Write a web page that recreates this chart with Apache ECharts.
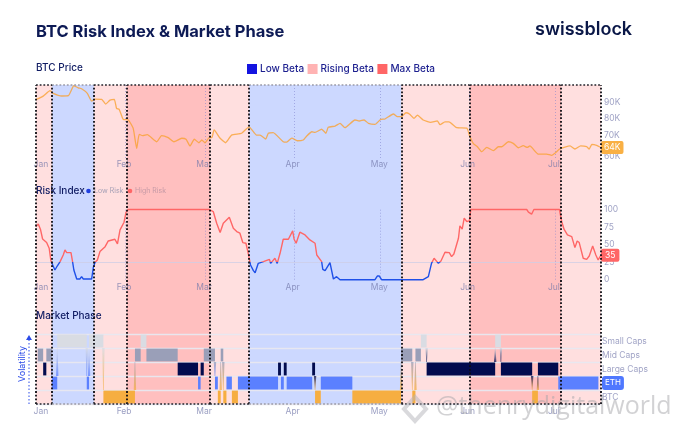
<!DOCTYPE html>
<html><head><meta charset="utf-8">
<style>html,body{margin:0;padding:0;background:#fff}#c{width:680px;height:434px}</style>
<script src="https://cdn.jsdelivr.net/npm/echarts@6/dist/echarts.min.js"></script>
</head><body><div id="c"></div>
<script>
// x values are days counted from the start of the year (Jan 1 = 0)
const priceDays = [1,3.5,5.9,7,10,12.3,14.2,15.7,16.9,18.9,20.4,21.6,23.9,25.3,26.8,28.3,29.1,30,31.4,33.2,34.9,36.1,37,38.2,39.8,43.1,44.8,47.1,49.1,51.8,53.3,54.7,56.2,57.8,58.8,59.9,61.4,62.3,63.1,65.2,67.1,69.2,72.7,75.3,77.9,79.1,81.1,82,83.7,87.2,88.4,90.2,92.1,94.2,95.4,97.2,98.3,100.6,102.1,102.9,105.3,107,108.7,112.2,113.7,115.4,116.9,119.2,121.2,122.7,125.6,127,128.3,130,131.2,132.8,134,136,138.6,140.9,141.9,143.6,145,147.7,151.2,152.3,153.5,154.9,156.4,158.2,160.5,162.2,163.4,165.7,167.4,169.2,170.9,172.3,173.2,176.1,179,180.8,183.7,187.2,188.9,190.9,193,193.9,194.8,196.5,198];
const priceK = [92.3,94.8,98.9,96.8,94.9,95.1,102.6,101,100.3,96.8,91.3,92.7,92.5,89.2,91.9,92.5,86.3,85.7,79.4,79,74.1,63.6,70.8,70.1,70.6,66.9,70.1,69,66.9,68.7,68.2,64.8,68.2,66.4,67.8,66.4,69,69,73.2,68.7,66.4,70.4,71.4,75,70.4,70.4,68.3,71.4,71.7,66.9,66.7,68.8,67.4,67.8,69.9,72.2,71.9,73.6,71.4,74.7,75.4,77,74.5,79,78.4,79,77,76.4,79.4,79.6,82.7,81,81,83.5,82.7,80,82,79,77.6,78.5,76.2,77.9,77.9,74.5,74.3,69.5,66,64.4,62,64.1,62.5,64.4,64.4,66.9,66.1,63.9,64.9,64.1,64.8,60.9,60.9,60.3,63.4,64.8,63.3,64.8,64.4,63.3,65.6,65.1,64];
const riskDays = [1,1.8,2.6,3.3,4.7,5.6,6.2,6.8,7.6,8.4,9.4,10.5,11.1,11.7,13.2,13.8,14.2,15.2,16.3,16.9,17.5,20.4,21,21.6,22.4,23.3,25.1,26.2,28.5,29.4,30.3,31.7,32.4,33.2,61.4,62.8,64,65.2,65.7,66.3,68.4,69.8,71,72.1,73.1,74.2,75,75.8,76.8,77.4,78.5,80.3,82.4,82.8,84.3,85.1,86.1,87.2,89,90.5,91,91.7,93,94.8,96.5,98.3,98.9,100.6,101,101.8,103.5,104.7,105.8,107,119.2,120,120.7,121.5,136,137.8,138.9,139.8,141.3,142.2,143.6,145.1,145.9,146.7,148.3,148.8,149.6,150.3,151.2,152.1,152.6,172.1,172.7,173.8,174.6,183.5,184.3,185.1,186.3,187.8,188.9,189.7,190.4,191.8,193,193.9,195.1,196.2,197,198];
const riskValues = [75.7,79.5,71,58,52.9,44.8,26.7,24.3,13.8,19.5,25.7,35.2,42.4,38.6,38.6,24.3,13.8,1,1,4.3,1,1,17.6,24.8,28.1,40,47.1,55.2,57.6,51,71,81.9,96.2,100,100,97.1,80.5,67.1,68.6,80.5,89,73.3,68.6,66.2,52.9,51.9,37.6,21,12.9,10,23.3,25.7,29,23.3,30.5,23.3,37.6,57.6,57.6,69.5,57.6,51.9,67.6,63.8,56.7,51.9,35.2,25.7,14.8,12.9,24.3,1,4.3,0,0,5.2,5.2,0,0,4.3,23.3,30.5,23.3,26.7,39,38.6,32.9,36.7,59,76.7,71.9,87.6,82.9,83.8,100,100,96.2,93.3,100,100,82.9,71.9,63.8,61.4,45.7,55.2,52.9,30.5,29,33.8,48.1,35.2,28.1,35];
const betaEdges = [1,6.6,21.2,32.7,61.7,75.3,128.4,152.3,184.1,198];
const betaTypes = ['Rising Beta','Low Beta','Rising Beta','Max Beta','Rising Beta','Low Beta','Rising Beta','Max Beta','Rising Beta'];
const volCaps = ['BTC','ETH','Large Caps','Mid Caps','Small Caps'];
const phaseStart = [1.6,3.5,4.6,6.5,8.4,18.7,19.5,24.5,35.5,37.5,39.5,50.4,57.5,58.4,59.5,63.4,64.4,65.4,66.3,67.4,69.3,71.4,85.4,86.4,87.4,88.4,97.3,98.3,100.3,111.3,128.3,132.2,133.3,135.2,137.2,161.1,163.1,174,176,183.1];
const phaseEnd   = [3.5,4.6,6.5,8.4,18.7,19.5,24.5,35.5,37.5,39.5,50.4,57.5,58.4,59.5,63.4,64.4,65.4,66.3,67.4,69.3,71.4,85.4,86.4,87.4,88.4,97.3,98.3,100.3,111.3,128.3,132.2,133.3,135.2,137.2,161.1,163.1,174,176,183.1,197.1];
const phaseLevel = [3,2,3,1,4,1,4,0,3,4,3,2,1,2,3,1,0,3,0,1,0,1,2,1,2,1,2,0,1,0,3,0,3,4,2,4,2,0,2,1];
const monthTickDays = [2.7,31.7,59.6,90.5,120.7,151.5,181.6];
const monthNames = ['Jan','Feb','Mar','Apr','May','Jun','Jul'];
const monthLineDays = [32,60,91,121,152,182];
const priceTicks = [60000,70000,80000,90000];
const riskTicks = [0,25,50,75,100];
const riskSplit = 25;

const FONT = 'Inter, "Noto Sans", sans-serif';
const NAVY = '#101c63';
const LABEL = '#a1a4c6';
const levelColor = ['#f6ae41','#5b80ff','#020b4e','#9a9fb8','#d9dce3'];
const zoneColor = {'Low Beta':'#ccd8ff','Rising Beta':'#ffdfdf','Max Beta':'#ffbfbf'};
const legendColor = {'Low Beta':'#1414e0','Rising Beta':'#ffb3b3','Max Beta':'#ff6666'};
const grids = [
  {left:36,right:79,top:85,height:319},
  {left:36,right:79,top:85,height:73},
  {left:36,right:79,top:209.5,height:70.2},
  {left:36,right:79,top:334,height:70}
];
const hiddenX = {type:'value',gridIndex:0,min:1,max:198,show:false};
function monthAxis(g,margin){return {type:'value',gridIndex:g,min:1,max:198,z:3,
  axisLine:{show:false},axisTick:{show:false},splitLine:{show:false},
  axisLabel:{customValues:monthTickDays,margin,fontSize:8.5,fontFamily:FONT,color:'rgba(115,120,170,.72)',
    formatter:v=>monthNames[monthTickDays.indexOf(v)]||''}};}

const zoneNames = ['Low Beta','Rising Beta','Max Beta'];
const zoneSeries = zoneNames.map(n=>({
  name:n,type:'line',xAxisIndex:0,yAxisIndex:0,data:[],z:1,silent:true,
  itemStyle:{color:legendColor[n]},lineStyle:{color:legendColor[n]},
  markArea:{silent:true,z:1,itemStyle:{color:zoneColor[n],opacity:1},
    data:betaTypes.map((t,i)=>t===n?[{xAxis:betaEdges[i]},{xAxis:betaEdges[i+1]}]:null).filter(Boolean)}
}));
const edgeLines = betaEdges.map(d=>({xAxis:d,lineStyle:{color:'#0d0d12',type:[1.8,1.9],width:1.8}}));
const rimLines = [];
betaTypes.forEach((t,i)=>{ [0,1].forEach(y=>{
  rimLines.push([{coord:[betaEdges[i],y],lineStyle:{color:t==='Low Beta'?'#9a9aa8':'#22222a',type:[1.8,1.9],width:1.5}},{coord:[betaEdges[i+1],y]}]);
});});
const guide = {symbol:'none',silent:true,animation:false,label:{show:false},
  lineStyle:{color:'rgba(125,130,205,.55)',type:[1,2],width:1},data:monthLineDays.map(d=>({xAxis:d}))};

function renderPhase(params,api){
  const i = params.dataIndex;
  const h = api.size([0,1])[1];
  const a = api.coord([api.value(0),api.value(2)]);
  const b = api.coord([api.value(1),api.value(2)]);
  const kids = [{type:'rect',shape:{x:a[0],y:a[1]-h/2+0.6,width:b[0]-a[0],height:h-1.2},
    style:{fill:levelColor[api.value(2)]}}];
  if(i>0){
    const prev = phaseLevel[i-1], cur = phaseLevel[i];
    if(Math.abs(prev-cur)>1){
      const p = api.coord([api.value(0),prev]);
      const up = cur<prev;
      const y1 = p[1]+(up?h/2:-h/2), y2 = a[1]+(up?-h/2:h/2);
      kids.push({type:'polygon',shape:{points:[[a[0]-1.2,y1],[a[0]+1.2,y1],[a[0]+0.3,y2],[a[0]-0.3,y2]]},
        style:{fill:new echarts.graphic.LinearGradient(0,y1<y2?0:1,0,y1<y2?1:0,[
          {offset:0,color:levelColor[prev]},{offset:1,color:levelColor[cur]}]),opacity:.75}});
    }
  }
  return {type:'group',children:kids};
}
const txt = (text,left,top,size,color,weight)=>({text,left,top,padding:0,textStyle:{fontFamily:FONT,fontSize:size,color,fontWeight:weight||500}});

// risk line colour changes where it crosses the split value
const riskGrid = grids[2];
const riskCut = 1-riskSplit/100;
const riskStroke = new echarts.graphic.LinearGradient(0,riskGrid.top,0,riskGrid.top+riskGrid.height,[
  {offset:0,color:'#ff6666'},{offset:riskCut,color:'#ff6666'},
  {offset:riskCut,color:'#1f50e8'},{offset:1,color:'#1f50e8'}],true);

const chart = echarts.init(document.getElementById('c'),null,{renderer:'canvas'});
chart.setOption({
  animation:false,backgroundColor:'#fff',
  title:[
    txt('BTC Risk Index & Market Phase',36,23.5,16.5,'#0d1a55',700),
    txt('swissblock',535,21,18,'#0a1747',600),
    txt('BTC Price',36,63,10,NAVY),
    txt('Risk Index',36,186,10,NAVY),
    txt('Low Risk',94,187.5,7,'#a49fb5',400),
    txt('High Risk',135,187.5,7,'#c69aa6',400),
    txt('Market Phase',36,311,10,NAVY),
    {text:'@thenrydigitalworld',left:436,top:394,padding:0,textStyle:{fontFamily:'"Open Sans",'+FONT,fontSize:25,fontWeight:400,color:'rgba(165,165,170,.5)'}}
  ],
  legend:{left:247,top:64,padding:0,data:zoneNames,icon:'rect',itemWidth:10,itemHeight:10,itemGap:3.5,selectedMode:false,
    textStyle:{fontFamily:FONT,fontSize:10,fontWeight:500,color:'#1c1f8f',padding:[0,0,0,-2]}},
  grid:grids,
  xAxis:[hiddenX,monthAxis(1,2),monthAxis(2,3),monthAxis(3,3)],
  yAxis:[
    {type:'value',gridIndex:0,min:0,max:1,show:false},
    {type:'log',logBase:10,gridIndex:1,min:59090,max:103200,position:'right',z:3,
      axisLine:{show:false},axisTick:{show:false},splitLine:{show:false},minorSplitLine:{show:false},
      axisLabel:{customValues:priceTicks,margin:3,fontSize:8.5,fontFamily:FONT,color:LABEL,formatter:v=>Math.round(v/1000)+'K'}},
    {type:'value',gridIndex:2,min:0,max:100,position:'right',z:3,
      axisLine:{show:false},axisTick:{show:false},splitLine:{show:false},
      axisLabel:{customValues:riskTicks,alignMaxLabel:'top',margin:3,fontSize:8.5,fontFamily:FONT,color:LABEL}},
    {type:'category',gridIndex:3,data:volCaps,position:'right',z:3,
      axisLine:{show:false},axisTick:{show:false},
      splitLine:{show:true,interval:0,lineStyle:{color:'rgba(232,232,240,.95)',width:1.3}},
      axisLabel:{margin:1,fontSize:8.5,fontFamily:FONT,color:LABEL,
        formatter:v=>v==='ETH'?'{eth|ETH}':v,
        rich:{eth:{color:'#fff',backgroundColor:'#4f78ff',borderRadius:3,padding:[3,3,3,3],fontSize:8,fontFamily:FONT}}}}
  ],
  series:[
    ...zoneSeries,
    {name:'edges',type:'line',xAxisIndex:0,yAxisIndex:0,data:[],z:10,silent:true,
      markLine:{symbol:'none',silent:true,z:10,label:{show:false},data:[...edgeLines,...rimLines]}},
    {name:'BTC Price',type:'line',xAxisIndex:1,yAxisIndex:1,z:6,showSymbol:false,smooth:0.15,
      data:priceDays.map((d,i)=>[d,priceK[i]*1000]),
      lineStyle:{color:'#f9a133',width:1.3,opacity:.8},itemStyle:{color:'#f9a133'},
      endLabel:{show:true,formatter:()=>'64K',color:'#fff',backgroundColor:'#f9b044',borderRadius:2,padding:[2,3,2,3],fontSize:8.5,fontFamily:FONT,distance:0},
      markLine:guide},
    {name:'Risk Index',type:'line',xAxisIndex:2,yAxisIndex:2,z:6,showSymbol:false,clip:false,
      data:riskDays.map((d,i)=>[d,riskValues[i]]),
      lineStyle:{width:1.4,color:riskStroke},itemStyle:{color:'#ff6666'},
      endLabel:{show:true,formatter:()=>'35',color:'#fff',backgroundColor:'#ff6666',borderRadius:2,padding:[2,4,2,4],fontSize:8.5,fontFamily:FONT,distance:0},
      markLine:{...guide,data:[...monthLineDays.map(d=>({xAxis:d})),
        {yAxis:25,lineStyle:{color:'rgba(205,205,230,.75)',type:'solid',width:1}}]}},
    {name:'Market Phase',type:'custom',xAxisIndex:3,yAxisIndex:3,z:5,silent:true,clip:false,
      encode:{x:[0,1],y:2},
      data:phaseStart.map((s,i)=>[s,phaseEnd[i],phaseLevel[i]]),renderItem:renderPhase}
  ],
  graphic:[
    {type:'circle',shape:{cx:88.5,cy:191,r:2.3},style:{fill:'#1f3fe0'},z:20},
    {type:'circle',shape:{cx:130,cy:191,r:2.3},style:{fill:'#ff6666'},z:20},
    {type:'text',x:22,y:364,rotation:Math.PI/2,style:{text:'Volatility',fontFamily:FONT,fontSize:9,fill:'#2b4be8',align:'center',verticalAlign:'middle'},z:20},
    {type:'line',shape:{x1:29,y1:404,x2:29,y2:340},style:{stroke:'#2b4be8',lineWidth:1,lineDash:[1.5,2]},z:20},
    {type:'polygon',shape:{points:[[29,335],[26,340],[32,340]]},style:{fill:'#2b4be8'},z:20},
    {type:'polygon',shape:{points:[[415,397],[426,409],[415,421],[404,409]]},style:{fill:'none',stroke:'rgba(180,180,185,.5)',lineWidth:4},z:20}
  ]
});
</script></body></html>
